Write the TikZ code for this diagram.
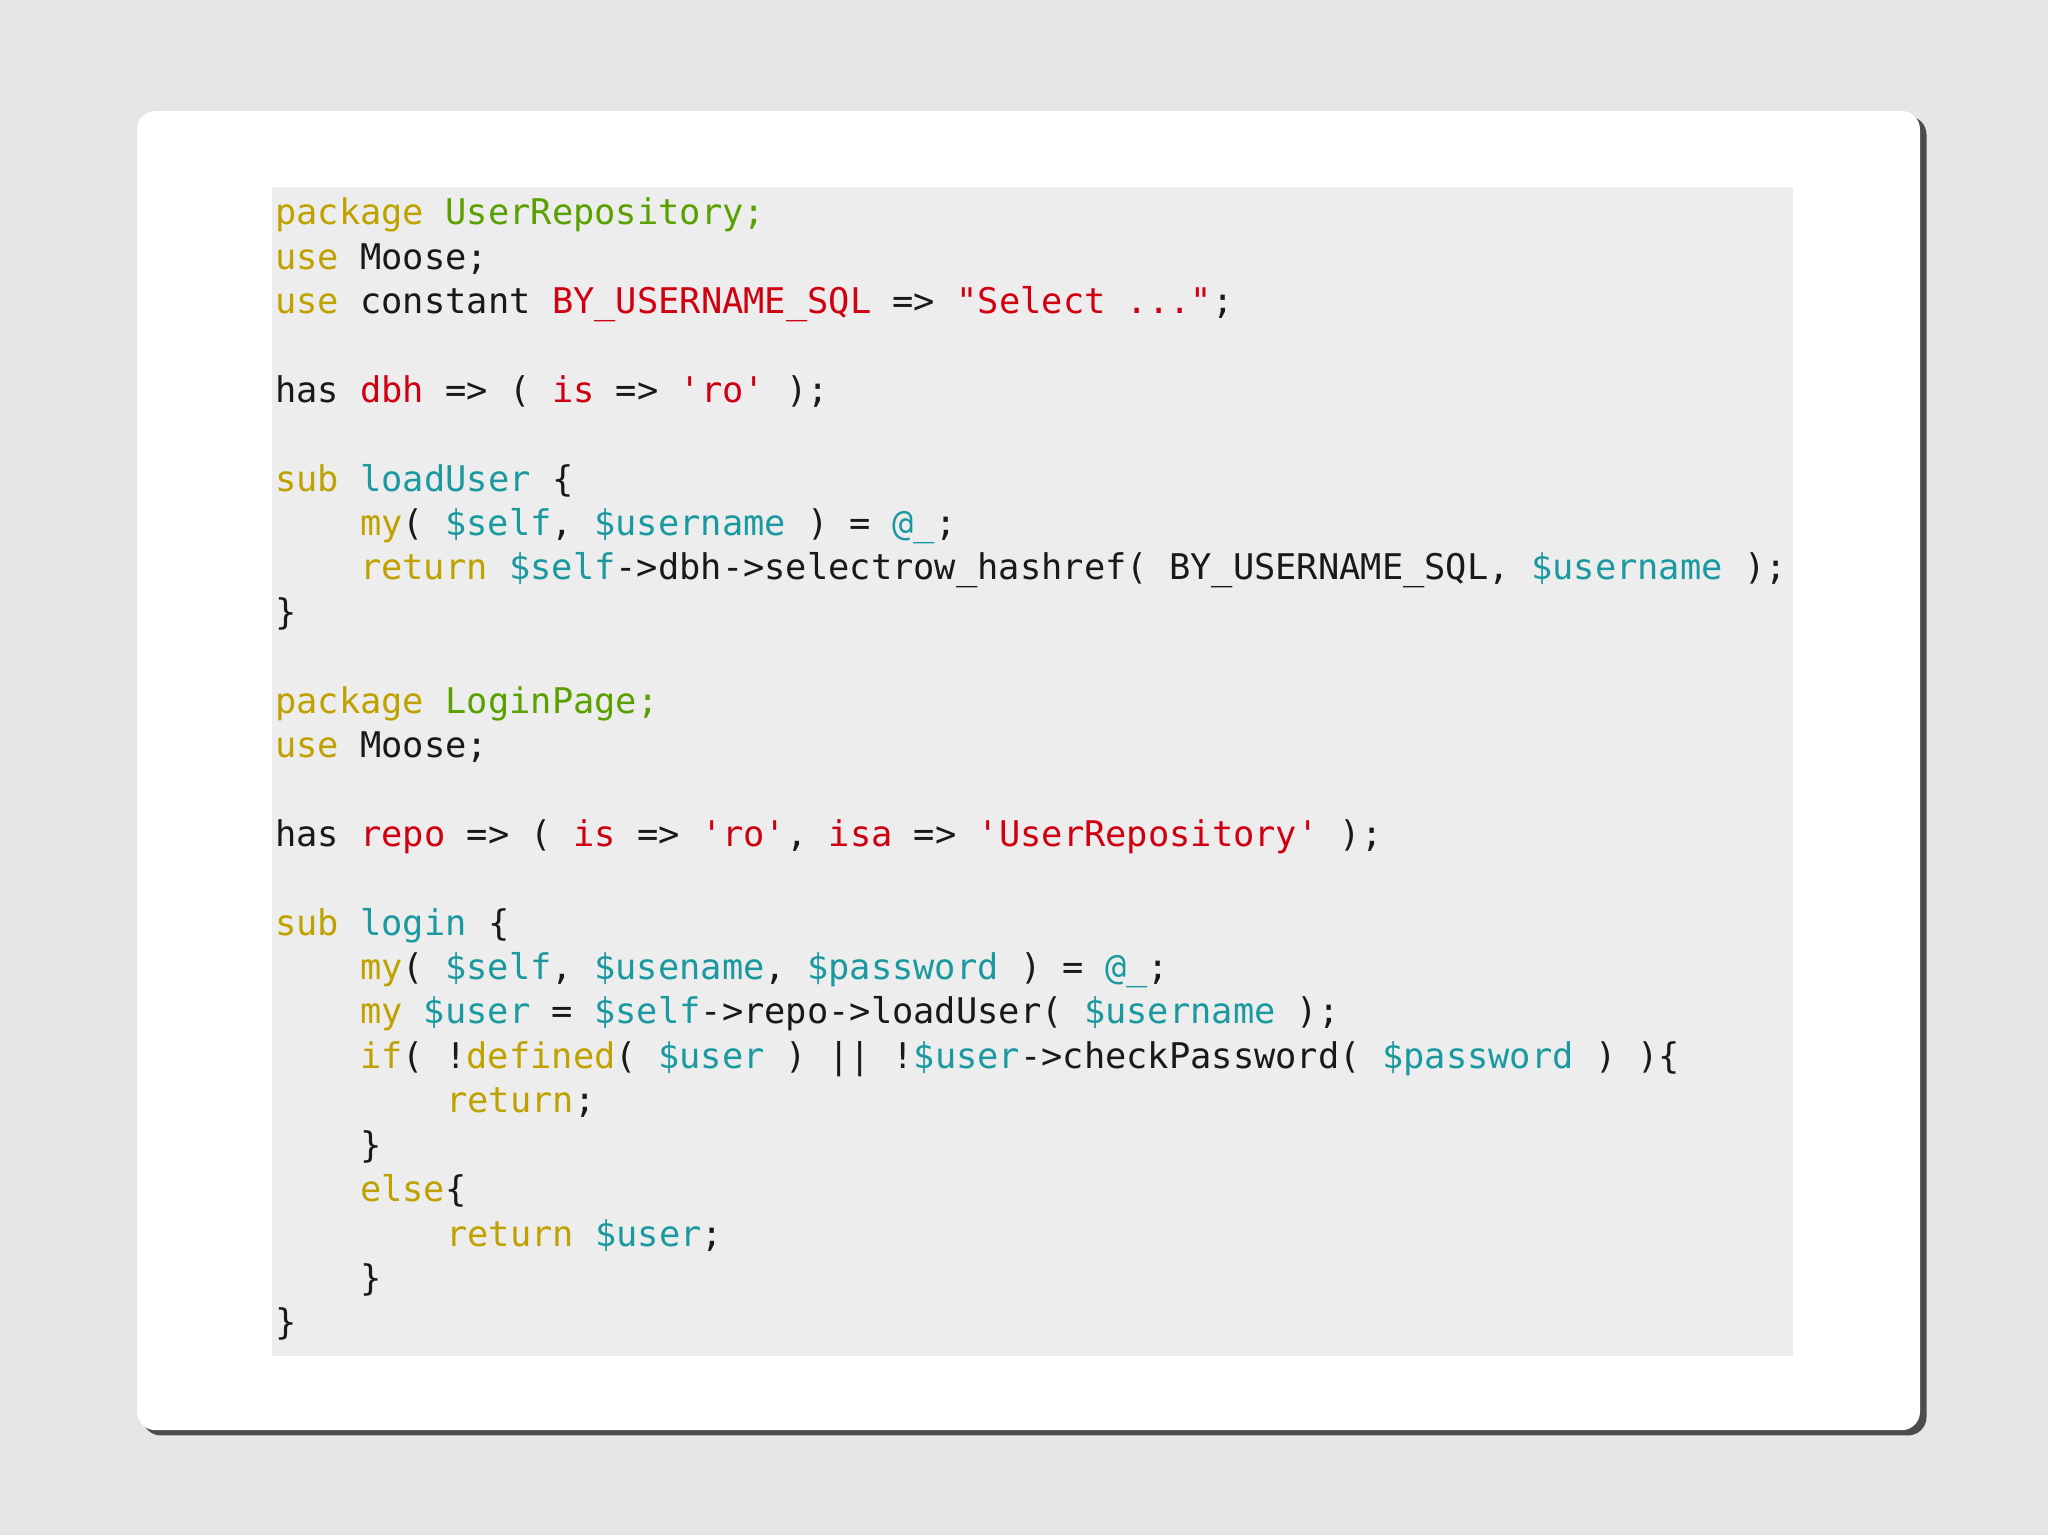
\documentclass[tikz,border=0pt]{standalone}
\usepackage{fontspec}
\newfontfamily\codefont{DejaVu Sans Mono}
\definecolor{kwc}{HTML}{BFA200}
\definecolor{pkc}{HTML}{5AA000}
\definecolor{rdc}{HTML}{D00010}
\definecolor{tlc}{HTML}{1A9AA0}
\definecolor{bgc}{HTML}{E6E6E6}
\definecolor{panel}{HTML}{EDEDED}
\newcommand{\kw}[1]{\textcolor{kwc}{#1}}
\newcommand{\pk}[1]{\textcolor{pkc}{#1}}
\newcommand{\rd}[1]{\textcolor{rdc}{#1}}
\newcommand{\tl}[1]{\textcolor{tlc}{#1}}
\newcommand{\q}{\char"27}
\newcommand{\dq}{\char"22}
\begin{document}
\begin{tikzpicture}[x=0.01cm,y=0.01cm,
  codeline/.style={anchor=base west,inner sep=0,font=\codefont\fontsize{7.7pt}{9pt}\selectfont,text=black!90}]
\fill[bgc] (0,0) rectangle (1568,1175);
\useasboundingbox (0,0) rectangle (1568,1175);
\fill[black!70,rounded corners=4pt] (109,76) rectangle (1475,1086);
\fill[white,rounded corners=4pt] (105,80) rectangle (1470,1090);
\fill[panel] (208,137) rectangle (1373,1032);
\def\L#1#2#3{\node[codeline] (l#1) at (#2,{1003-34*#1}) {#3};}
\L{0}{210}{\kw{package} \pk{UserRepository;}}
\L{1}{210}{\kw{use} Moose;}
\L{2}{210}{\kw{use} constant \rd{BY\_USERNAME\_SQL} => \rd{\dq Select ...\dq};}
\L{4}{210}{has \rd{dbh} => ( \rd{is} => \rd{\q ro\q} );}
\L{6}{210}{\kw{sub} \tl{loadUser} \{}
\L{7}{275}{\kw{my}( \tl{\$self}, \tl{\$username} ) = \tl{@\_};}
\L{8}{275}{\kw{return} \tl{\$self}->dbh->selectrow\_hashref( BY\_USERNAME\_SQL, \tl{\$username} );}
\L{9}{210}{\}}
\L{11}{210}{\kw{package} \pk{LoginPage;}}
\L{12}{210}{\kw{use} Moose;}
\L{14}{210}{has \rd{repo} => ( \rd{is} => \rd{\q ro\q}, \rd{isa} => \rd{\q UserRepository\q} );}
\L{16}{210}{\kw{sub} \tl{login} \{}
\L{17}{275}{\kw{my}( \tl{\$self}, \tl{\$usename}, \tl{\$password} ) = \tl{@\_};}
\L{18}{275}{\kw{my} \tl{\$user} = \tl{\$self}->repo->loadUser( \tl{\$username} );}
\L{19}{275}{\kw{if}( !\kw{defined}( \tl{\$user} ) || !\tl{\$user}->checkPassword( \tl{\$password} ) )\{}
\L{20}{341}{\kw{return};}
\L{21}{275}{\}}
\L{22}{275}{\kw{else}\{}
\L{23}{341}{\kw{return} \tl{\$user};}
\L{24}{275}{\}}
\L{25}{210}{\}}
\end{tikzpicture}
\end{document}
